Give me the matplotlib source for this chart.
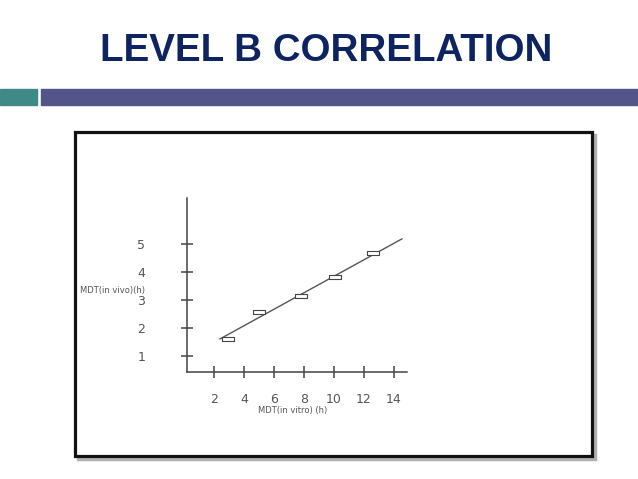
import matplotlib
matplotlib.use("Agg")
import matplotlib.pyplot as plt
from matplotlib.patches import Rectangle

# data
mdt_vitro = [2.93, 5.0, 7.8, 10.07, 12.6]
mdt_vivo = [1.61, 2.57, 3.14, 3.82, 4.68]
fit_x = [2.4, 14.53]
fit_y = [1.61, 5.18]
x_ticks = [2, 4, 6, 8, 10, 12, 14]
y_ticks = [1, 2, 3, 4, 5]

W, H = 638, 479

def fx(px):
    return px / W

def fy(py):
    return 1 - py / H

fig = plt.figure(figsize=(W / 100, H / 100), dpi=100)
fig.patch.set_facecolor("white")

# slide title and header bars
fig.text(fx(326), fy(51), "LEVEL B CORRELATION", ha="center", va="center",
         fontsize=27.7, fontweight="bold", color="#0d2460", family="Liberation Sans")
fig.patches.append(Rectangle((fx(0), fy(105)), fx(37), (105 - 89) / H,
                             transform=fig.transFigure, color="#3f8a87"))
fig.patches.append(Rectangle((fx(41), fy(105)), fx(W - 41), (105 - 89) / H,
                             transform=fig.transFigure, color="#53548a"))

# picture frame with shadow
fig.patches.append(Rectangle((fx(78), fy(459)), fx(592 - 75), (456 - 132) / H,
                             transform=fig.transFigure, fill=False,
                             edgecolor="#b0b0b0", lw=2.5))
fig.patches.append(Rectangle((fx(75), fy(456)), fx(592 - 75), (456 - 132) / H,
                             transform=fig.transFigure, facecolor="white",
                             edgecolor="#111111", lw=2.3))

ax = fig.add_axes([fx(187), fy(372), fx(407 - 187), (372 - 198) / H])
ax.set_zorder(5)
ax.set_xlim(0.2, 14.87)
ax.set_ylim(0.43, 6.64)
ax.patch.set_alpha(0)

for side in ["top", "right"]:
    ax.spines[side].set_visible(False)
for side in ["left", "bottom"]:
    ax.spines[side].set_color("#444444")
    ax.spines[side].set_linewidth(1.1)

ax.set_xticks(x_ticks)
ax.set_yticks(y_ticks)
ax.tick_params(direction="inout", length=8, width=1.1, color="#444444",
               labelcolor="#555555", labelsize=9)
ax.tick_params(axis="x", pad=11)
ax.tick_params(axis="y", pad=26)

ax.plot(fit_x, fit_y, color="#555555", lw=1.0)
rect = [(-2, -0.7), (2, -0.7), (2, 0.7), (-2, 0.7), (-2, -0.7)]
ax.plot(mdt_vitro, mdt_vivo, linestyle="none", marker=rect, markersize=9,
        markerfacecolor="white", markeredgecolor="#444444", markeredgewidth=0.8)

fig.text(fx(293), fy(410), "MDT(in vitro) (h)", ha="center", va="center",
         fontsize=6, color="#555555", zorder=6)
fig.text(fx(113), fy(291), "MDT(in vivo)(h)", ha="center", va="center",
         fontsize=6, color="#555555", zorder=6)

fig.savefig("out.png", dpi=100)
